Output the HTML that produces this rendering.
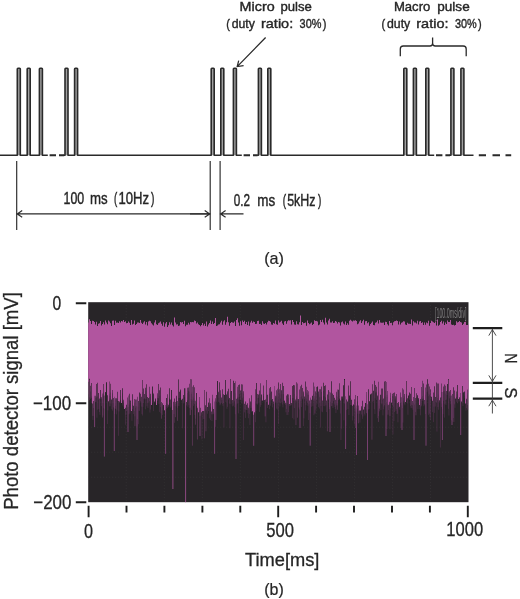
<!DOCTYPE html>
<html><head><meta charset="utf-8"><title>Figure</title>
<style>
html,body{margin:0;padding:0;background:#fff;}
svg{display:block}
text{font-family:"Liberation Sans",sans-serif;fill:#262626;stroke:#262626;stroke-width:0.4px}
.lbl{font-size:13.4px}
.dim{font-size:15.9px}
.cap{font-size:16px;stroke-width:0.2px}
.ax{font-size:20.2px;stroke-width:0.3px}
</style></head><body>
<svg width="520" height="599" viewBox="0 0 520 599">
<rect width="520" height="599" fill="#fff"/>
<g fill="none" stroke="#2a2a2a" stroke-width="1.6" stroke-linejoin="round">
<path d="M0,155.3 L17.30,155.3 L17.30,69.10000000000001 Q17.30,68.2 18.00,68.2 L19.60,68.2 Q20.30,68.2 20.30,69.10000000000001 L20.30,155.3 L27.20,155.3 L27.20,69.10000000000001 Q27.20,68.2 27.90,68.2 L29.50,68.2 Q30.20,68.2 30.20,69.10000000000001 L30.20,155.3 L39.40,155.3 L39.40,69.10000000000001 Q39.40,68.2 40.10,68.2 L41.70,68.2 Q42.40,68.2 42.40,69.10000000000001 L42.40,155.3 L47.80,155.3 M63.70,155.3 L65.00,155.3 L65.00,69.10000000000001 Q65.00,68.2 65.70,68.2 L67.30,68.2 Q68.00,68.2 68.00,69.10000000000001 L68.00,155.3 L74.60,155.3 L74.60,69.10000000000001 Q74.60,68.2 75.30,68.2 L76.90,68.2 Q77.60,68.2 77.60,69.10000000000001 L77.60,155.3 L210.4,155.3 M210.4,155.3 L211.20,155.3 L211.20,69.10000000000001 Q211.20,68.2 211.90,68.2 L213.50,68.2 Q214.20,68.2 214.20,69.10000000000001 L214.20,155.3 L220.80,155.3 L220.80,69.10000000000001 Q220.80,68.2 221.50,68.2 L223.10,68.2 Q223.80,68.2 223.80,69.10000000000001 L223.80,155.3 L233.40,155.3 L233.40,69.10000000000001 Q233.40,68.2 234.10,68.2 L235.70,68.2 Q236.40,68.2 236.40,69.10000000000001 L236.40,155.3 L241.80,155.3 M257.10,155.3 L258.40,155.3 L258.40,69.10000000000001 Q258.40,68.2 259.10,68.2 L260.70,68.2 Q261.40,68.2 261.40,69.10000000000001 L261.40,155.3 L267.80,155.3 L267.80,69.10000000000001 Q267.80,68.2 268.50,68.2 L270.10,68.2 Q270.80,68.2 270.80,69.10000000000001 L270.80,155.3 L403.0,155.3 M403.0,155.3 L403.80,155.3 L403.80,69.10000000000001 Q403.80,68.2 404.50,68.2 L406.10,68.2 Q406.80,68.2 406.80,69.10000000000001 L406.80,155.3 L413.40,155.3 L413.40,69.10000000000001 Q413.40,68.2 414.10,68.2 L415.70,68.2 Q416.40,68.2 416.40,69.10000000000001 L416.40,155.3 L425.80,155.3 L425.80,69.10000000000001 Q425.80,68.2 426.50,68.2 L428.10,68.2 Q428.80,68.2 428.80,69.10000000000001 L428.80,155.3 L434.20,155.3 M449.60,155.3 L450.90,155.3 L450.90,69.10000000000001 Q450.90,68.2 451.60,68.2 L453.20,68.2 Q453.90,68.2 453.90,69.10000000000001 L453.90,155.3 L460.90,155.3 L460.90,69.10000000000001 Q460.90,68.2 461.60,68.2 L463.20,68.2 Q463.90,68.2 463.90,69.10000000000001 L463.90,155.3 L473.5,155.3 " fill="#a0a0a0"/>
<path d="M49.60,155.3 L56.00,155.3 M59.00,155.3 L64.20,155.3 M243.60,155.3 L250.00,155.3 M253.00,155.3 L257.60,155.3 M436.00,155.3 L442.40,155.3 M445.40,155.3 L450.10,155.3 M478.8,155.3 L486,155.3 M492.5,155.3 L500,155.3 M505.5,155.3 L511.2,155.3 " stroke-width="1.9"/>
</g>
<g fill="none" stroke="#2a2a2a" stroke-width="1.15">
<path d="M16.7,161 V230 M210.2,161 V230 M220.1,161 V230"/>
<path d="M16.7,213.9 H210.2 M22.2,210.6 L17.2,213.9 L22.2,217.2 M204.7,210.6 L209.7,213.9 L204.7,217.2"/>
<path d="M220.1,213.9 H243.5 M225.6,210.6 L220.6,213.9 L225.6,217.2"/>
<path d="M190,213.9 H210.2"/>
<path d="M265.6,37.5 L237.2,66.6 M238.7,60.6 L237.2,66.6 L243.6,65.6" stroke-width="1.25"/>
<path d="M400.3,56.3 V49 Q400.3,46 403.3,46 H430 Q432.6,46 432.6,43.2 V37.5 M432.6,43.2 Q432.6,46 435.2,46 H463.2 Q466.2,46 466.2,49 V56.3" stroke-width="1.3"/>
</g>
<text class="lbl" y="11.1" ><tspan x="239.60" textLength="35.04" lengthAdjust="spacingAndGlyphs">Micro</tspan><tspan> </tspan><tspan x="280.40" textLength="31.38" lengthAdjust="spacingAndGlyphs">pulse</tspan></text>
<text class="lbl" y="27.9" ><tspan x="226.20" textLength="3.66" lengthAdjust="spacingAndGlyphs">(</tspan><tspan x="231.70" textLength="23.22" lengthAdjust="spacingAndGlyphs">duty</tspan><tspan> </tspan><tspan x="261.00" textLength="32.19" lengthAdjust="spacingAndGlyphs">ratio:</tspan><tspan> </tspan><tspan x="299.60" textLength="21.82" lengthAdjust="spacingAndGlyphs">30%</tspan><tspan x="322.70" textLength="3.66" lengthAdjust="spacingAndGlyphs">)</tspan></text>
<text class="lbl" y="11.0" ><tspan x="393.90" textLength="36.43" lengthAdjust="spacingAndGlyphs">Macro</tspan><tspan> </tspan><tspan x="437.30" textLength="32.38" lengthAdjust="spacingAndGlyphs">pulse</tspan></text>
<text class="lbl" y="27.9" ><tspan x="381.50" textLength="3.66" lengthAdjust="spacingAndGlyphs">(</tspan><tspan x="387.00" textLength="23.22" lengthAdjust="spacingAndGlyphs">duty</tspan><tspan> </tspan><tspan x="416.30" textLength="32.19" lengthAdjust="spacingAndGlyphs">ratio:</tspan><tspan> </tspan><tspan x="454.90" textLength="21.82" lengthAdjust="spacingAndGlyphs">30%</tspan><tspan x="478.00" textLength="3.66" lengthAdjust="spacingAndGlyphs">)</tspan></text>
<text class="dim" y="203.8" ><tspan x="63.50" textLength="20.69" lengthAdjust="spacingAndGlyphs">100</tspan><tspan> </tspan><tspan x="89.90" textLength="17.63" lengthAdjust="spacingAndGlyphs">ms</tspan><tspan> </tspan><tspan x="114.00" textLength="3.22" lengthAdjust="spacingAndGlyphs">(</tspan><tspan x="118.50" textLength="30.55" lengthAdjust="spacingAndGlyphs">10Hz</tspan><tspan x="151.00" textLength="3.42" lengthAdjust="spacingAndGlyphs">)</tspan></text>
<text class="dim" y="205.8" ><tspan x="233.80" textLength="16.26" lengthAdjust="spacingAndGlyphs">0.2</tspan><tspan> </tspan><tspan x="257.20" textLength="17.93" lengthAdjust="spacingAndGlyphs">ms</tspan><tspan> </tspan><tspan x="282.80" textLength="3.32" lengthAdjust="spacingAndGlyphs">(</tspan><tspan x="287.20" textLength="28.33" lengthAdjust="spacingAndGlyphs">5kHz</tspan><tspan x="318.00" textLength="3.32" lengthAdjust="spacingAndGlyphs">)</tspan></text>
<text class="cap" x="264.2" y="264.0" textLength="19.8" lengthAdjust="spacingAndGlyphs" style="font-size:17px">(a)</text>
<text class="cap" x="264.3" y="594.8" textLength="19.5" lengthAdjust="spacingAndGlyphs" style="font-size:16.3px">(b)</text>

<rect x="88.2" y="302.2" width="380.3" height="200.0" fill="#282528"/>
<path d="M126.2,302.2 V502.2 M164.3,302.2 V502.2 M202.3,302.2 V502.2 M240.3,302.2 V502.2 M278.4,302.2 V502.2 M316.4,302.2 V502.2 M354.4,302.2 V502.2 M392.4,302.2 V502.2 M430.5,302.2 V502.2 " stroke="#4a464a" stroke-width="0.6" stroke-dasharray="1,2" opacity="0.6" fill="none"/>
<path d="M88.2,327.2 H468.5 M88.2,352.2 H468.5 M88.2,377.2 H468.5 M88.2,402.2 H468.5 M88.2,427.2 H468.5 M88.2,452.2 H468.5 M88.2,477.2 H468.5 " stroke="#4a464a" stroke-width="0.6" stroke-dasharray="1,2" opacity="0.6" fill="none"/>
<path d="M88.95,380 V401.3 M89.45,380 V400.0 M90.45,380 V398.9 M91.95,380 V403.1 M92.95,380 V419.9 M93.45,380 V408.0 M93.95,380 V400.6 M94.45,380 V399.7 M95.45,380 V401.9 M95.95,380 V401.9 M96.95,380 V417.7 M97.45,380 V409.6 M98.45,380 V399.7 M98.95,380 V409.0 M99.45,380 V412.0 M99.95,380 V414.8 M100.95,380 V399.0 M101.45,380 V406.2 M101.95,380 V399.3 M102.45,380 V403.2 M102.95,380 V415.6 M103.95,380 V407.9 M104.45,380 V409.2 M107.45,380 V424.0 M107.95,380 V410.4 M108.45,380 V401.3 M109.45,380 V399.9 M109.95,380 V398.3 M110.95,380 V403.6 M111.95,380 V409.2 M112.45,380 V410.6 M112.95,380 V398.7 M113.45,380 V407.4 M113.95,380 V403.3 M114.45,380 V413.9 M114.95,380 V400.5 M115.45,380 V405.8 M115.95,380 V408.9 M116.45,380 V414.4 M116.95,380 V410.4 M117.45,380 V400.9 M117.95,380 V399.0 M118.45,380 V435.8 M118.95,380 V411.5 M119.45,380 V402.6 M119.95,380 V402.6 M120.45,380 V399.9 M121.95,380 V400.8 M122.95,380 V405.5 M123.45,380 V402.7 M123.95,380 V407.3 M124.45,380 V403.2 M125.45,380 V424.8 M125.95,380 V415.1 M126.45,380 V410.9 M127.45,380 V407.4 M127.95,380 V410.4 M128.45,380 V407.0 M128.95,380 V414.3 M129.95,380 V413.6 M130.95,380 V410.2 M131.45,380 V409.5 M131.95,380 V420.8 M132.45,380 V409.0 M133.45,380 V414.1 M134.45,380 V411.1 M134.95,380 V416.4 M135.45,380 V407.7 M135.95,380 V406.1 M136.45,380 V406.3 M136.95,380 V426.5 M137.45,380 V419.2 M137.95,380 V406.8 M138.45,380 V424.2 M138.95,380 V410.8 M139.45,380 V410.8 M140.95,380 V402.5 M141.45,380 V406.6 M141.95,380 V413.9 M142.45,380 V415.5 M142.95,380 V406.8 M143.45,380 V403.0 M143.95,380 V399.2 M144.45,380 V398.0 M144.95,380 V399.4 M145.45,380 V409.3 M145.95,380 V399.0 M146.95,380 V406.4 M147.45,380 V402.9 M147.95,380 V407.9 M148.45,380 V398.4 M148.95,380 V402.4 M149.45,380 V401.0 M149.95,380 V412.6 M150.45,380 V409.6 M151.95,380 V403.1 M153.45,380 V411.1 M154.95,380 V402.3 M155.95,380 V400.1 M156.45,380 V402.1 M156.95,380 V401.3 M157.45,380 V400.8 M157.95,380 V398.2 M158.45,380 V398.3 M158.95,380 V404.1 M159.45,380 V411.9 M160.45,380 V407.1 M160.95,380 V413.3 M161.95,380 V410.4 M162.45,380 V414.9 M162.95,380 V406.5 M164.45,380 V404.8 M165.45,380 V413.4 M165.95,380 V409.1 M166.95,380 V406.7 M167.45,380 V407.9 M167.95,380 V406.4 M168.45,380 V406.7 M170.45,380 V407.6 M170.95,380 V406.6 M173.95,380 V414.0 M174.45,380 V422.8 M174.95,380 V405.7 M175.45,380 V404.0 M175.95,380 V406.4 M176.45,380 V401.3 M177.45,380 V407.8 M177.95,380 V405.8 M178.95,380 V406.1 M179.45,380 V398.0 M180.95,380 V398.1 M181.45,380 V400.6 M181.95,380 V399.1 M182.45,380 V428.3 M182.95,380 V398.1 M183.45,380 V403.4 M183.95,380 V401.4 M186.45,380 V405.4 M186.95,380 V400.5 M187.45,380 V400.4 M187.95,380 V406.7 M188.95,380 V405.0 M189.45,380 V408.1 M189.95,380 V415.4 M190.45,380 V407.6 M190.95,380 V399.0 M191.45,380 V409.8 M191.95,380 V400.7 M192.45,380 V399.7 M193.45,380 V405.8 M193.95,380 V400.9 M194.45,380 V404.1 M194.95,380 V414.9 M195.45,380 V418.7 M196.95,380 V406.0 M197.45,380 V408.8 M197.95,380 V407.8 M198.45,380 V406.8 M199.45,380 V410.0 M199.95,380 V416.0 M200.45,380 V407.8 M200.95,380 V415.5 M201.95,380 V439.3 M202.95,380 V419.0 M203.45,380 V407.2 M203.95,380 V418.9 M204.45,380 V411.4 M205.95,380 V409.4 M206.45,380 V410.5 M207.45,380 V413.7 M208.45,380 V411.0 M209.45,380 V418.4 M209.95,380 V406.5 M210.45,380 V420.1 M210.95,380 V407.4 M211.45,380 V414.3 M211.95,380 V420.9 M212.45,380 V406.4 M212.95,380 V407.8 M213.95,380 V413.6 M214.45,380 V412.4 M214.95,380 V419.9 M215.45,380 V426.8 M215.95,380 V401.6 M216.95,380 V401.8 M218.45,380 V401.8 M219.45,380 V402.6 M219.95,380 V405.4 M220.45,380 V404.4 M221.45,380 V402.8 M221.95,380 V400.1 M222.45,380 V403.9 M222.95,380 V405.8 M223.45,380 V403.0 M223.95,380 V427.4 M225.95,380 V401.9 M226.95,380 V408.8 M227.45,380 V406.8 M228.45,380 V399.5 M229.45,380 V403.8 M229.95,380 V428.3 M230.45,380 V399.4 M230.95,380 V404.2 M231.95,380 V400.5 M232.45,380 V406.4 M232.95,380 V402.6 M233.45,380 V405.7 M234.45,380 V401.3 M234.95,380 V407.2 M235.45,380 V414.3 M235.95,380 V404.4 M236.95,380 V398.4 M237.45,380 V403.5 M237.95,380 V398.4 M238.45,380 V413.4 M238.95,380 V400.2 M240.45,380 V400.2 M240.95,380 V400.1 M241.95,380 V403.7 M242.45,380 V398.3 M242.95,380 V400.4 M243.45,380 V440.0 M244.45,380 V412.4 M244.95,380 V408.9 M245.45,380 V417.9 M245.95,380 V410.1 M246.95,380 V410.0 M247.45,380 V407.3 M247.95,380 V413.3 M248.45,380 V418.2 M248.95,380 V408.8 M249.45,380 V413.9 M249.95,380 V425.0 M250.95,380 V408.1 M251.45,380 V411.7 M251.95,380 V407.6 M252.45,380 V410.9 M252.95,380 V410.2 M254.45,380 V406.9 M254.95,380 V413.5 M255.45,380 V422.2 M255.95,380 V411.0 M256.95,380 V404.0 M257.45,380 V404.6 M257.95,380 V403.2 M259.45,380 V411.9 M259.95,380 V401.8 M260.45,380 V406.8 M260.95,380 V405.1 M261.95,380 V400.8 M262.95,380 V399.8 M263.95,380 V401.5 M264.45,380 V398.2 M264.95,380 V416.6 M265.45,380 V416.3 M265.95,380 V422.3 M266.45,380 V401.9 M266.95,380 V402.1 M267.45,380 V408.0 M268.95,380 V401.6 M269.45,380 V409.2 M270.45,380 V405.7 M270.95,380 V400.5 M271.45,380 V400.2 M272.45,380 V407.4 M272.95,380 V400.9 M273.45,380 V403.9 M274.45,380 V410.3 M274.95,380 V398.2 M275.45,380 V402.5 M276.45,380 V408.6 M276.95,380 V402.7 M277.45,380 V409.5 M277.95,380 V400.7 M278.45,380 V424.1 M279.45,380 V402.6 M279.95,380 V406.5 M280.45,380 V398.5 M280.95,380 V403.2 M281.95,380 V402.0 M282.45,380 V404.5 M282.95,380 V407.4 M283.95,380 V401.0 M284.45,380 V401.2 M284.95,380 V403.9 M285.45,380 V404.9 M285.95,380 V412.3 M286.45,380 V408.9 M286.95,380 V415.0 M287.95,380 V414.9 M288.45,380 V412.1 M288.95,380 V404.3 M289.45,380 V406.1 M290.45,380 V405.5 M290.95,380 V405.4 M291.45,380 V404.6 M292.45,380 V418.1 M293.95,380 V419.5 M294.45,380 V408.1 M295.45,380 V400.7 M295.95,380 V401.6 M296.95,380 V401.3 M297.45,380 V398.9 M297.95,380 V399.1 M298.45,380 V400.5 M298.95,380 V407.5 M299.45,380 V409.5 M300.95,380 V401.0 M301.45,380 V406.9 M302.45,380 V399.4 M303.45,380 V426.1 M303.95,380 V418.4 M304.45,380 V399.2 M305.45,380 V410.5 M305.95,380 V405.2 M306.45,380 V401.2 M306.95,380 V399.4 M307.45,380 V402.6 M307.95,380 V405.8 M308.45,380 V420.0 M308.95,380 V404.3 M309.45,380 V400.4 M309.95,380 V413.2 M310.45,380 V399.3 M310.95,380 V403.4 M311.45,380 V406.7 M311.95,380 V398.7 M312.95,380 V406.2 M313.45,380 V400.7 M313.95,380 V415.2 M314.45,380 V398.5 M314.95,380 V400.7 M315.95,380 V409.7 M316.45,380 V400.0 M316.95,380 V404.0 M318.45,380 V407.1 M319.45,380 V408.5 M319.95,380 V402.5 M320.45,380 V427.6 M320.95,380 V406.1 M321.95,380 V411.6 M322.45,380 V412.2 M323.95,380 V406.1 M324.95,380 V406.4 M325.95,380 V405.3 M326.45,380 V412.0 M328.45,380 V399.2 M328.95,380 V400.2 M329.45,380 V407.1 M330.45,380 V401.7 M331.45,380 V406.2 M331.95,380 V406.1 M332.45,380 V403.1 M332.95,380 V408.1 M333.45,380 V401.0 M334.45,380 V404.5 M334.95,380 V407.0 M335.45,380 V409.2 M335.95,380 V413.0 M336.45,380 V405.5 M336.95,380 V403.3 M337.45,380 V405.4 M338.45,380 V400.1 M339.45,380 V398.6 M339.95,380 V399.5 M340.45,380 V413.5 M340.95,380 V440.1 M341.45,380 V428.7 M341.95,380 V398.7 M342.95,380 V398.6 M343.95,380 V420.3 M344.45,380 V403.5 M345.45,380 V401.6 M345.95,380 V425.8 M346.45,380 V409.9 M346.95,380 V399.1 M347.95,380 V409.1 M348.45,380 V399.5 M348.95,380 V415.1 M350.45,380 V405.0 M351.45,380 V405.0 M352.45,380 V420.5 M352.95,380 V415.9 M354.45,380 V424.5 M354.95,380 V409.3 M355.45,380 V407.4 M355.95,380 V411.6 M356.45,380 V408.1 M356.95,380 V408.8 M357.95,380 V413.8 M358.45,380 V411.0 M358.95,380 V407.9 M359.45,380 V413.8 M359.95,380 V422.6 M360.95,380 V409.4 M361.45,380 V414.5 M361.95,380 V407.8 M362.45,380 V418.8 M362.95,380 V416.5 M363.45,380 V409.6 M364.45,380 V413.8 M364.95,380 V415.5 M366.45,380 V409.6 M366.95,380 V404.4 M368.95,380 V409.1 M372.45,380 V401.6 M373.45,380 V401.2 M374.45,380 V409.3 M374.95,380 V413.9 M376.45,380 V399.9 M377.45,380 V418.2 M378.45,380 V416.1 M378.95,380 V405.7 M379.45,380 V411.4 M379.95,380 V398.7 M380.95,380 V410.1 M381.45,380 V403.4 M381.95,380 V404.4 M382.45,380 V399.7 M382.95,380 V415.4 M383.45,380 V409.4 M383.95,380 V406.6 M384.45,380 V405.2 M386.45,380 V402.2 M386.95,380 V429.1 M387.45,380 V404.3 M387.95,380 V405.7 M388.45,380 V410.1 M388.95,380 V404.7 M389.45,380 V403.5 M389.95,380 V429.2 M390.45,380 V408.3 M391.45,380 V402.9 M392.45,380 V405.2 M392.95,380 V434.4 M393.45,380 V406.8 M393.95,380 V421.1 M394.45,380 V412.0 M395.95,380 V410.9 M396.45,380 V409.2 M396.95,380 V414.0 M397.45,380 V413.7 M397.95,380 V422.3 M398.45,380 V404.1 M398.95,380 V408.2 M399.95,380 V409.7 M400.45,380 V402.7 M400.95,380 V427.9 M401.45,380 V402.2 M401.95,380 V405.4 M402.45,380 V408.1 M402.95,380 V422.6 M403.45,380 V400.7 M403.95,380 V402.1 M404.45,380 V403.6 M404.95,380 V405.3 M405.95,380 V400.4 M406.45,380 V399.6 M407.45,380 V403.4 M407.95,380 V414.8 M409.45,380 V399.7 M410.45,380 V405.9 M410.95,380 V407.8 M411.45,380 V404.8 M411.95,380 V408.1 M412.45,380 V405.3 M412.95,380 V409.7 M413.45,380 V402.6 M414.45,380 V404.6 M415.45,380 V411.9 M417.95,380 V409.2 M419.95,380 V409.2 M420.45,380 V415.3 M420.95,380 V406.6 M421.45,380 V405.6 M421.95,380 V401.2 M422.45,380 V399.0 M422.95,380 V400.8 M423.45,380 V398.5 M423.95,380 V406.2 M424.45,380 V404.2 M424.95,380 V404.8 M425.45,380 V414.0 M426.95,380 V400.4 M428.45,380 V414.8 M429.45,380 V413.6 M429.95,380 V416.9 M430.45,380 V420.2 M431.95,380 V399.3 M432.45,380 V412.1 M432.95,380 V399.0 M433.45,380 V422.1 M433.95,380 V406.7 M434.45,380 V412.9 M435.45,380 V406.5 M435.95,380 V401.8 M436.45,380 V402.4 M436.95,380 V431.6 M437.45,380 V400.3 M437.95,380 V407.1 M438.45,380 V409.7 M438.95,380 V402.2 M439.95,380 V401.4 M440.45,380 V447.5 M441.45,380 V406.9 M441.95,380 V403.6 M442.45,380 V409.2 M442.95,380 V413.9 M443.45,380 V400.7 M444.45,380 V417.6 M444.95,380 V403.9 M445.45,380 V400.0 M445.95,380 V405.0 M446.45,380 V399.7 M448.45,380 V408.8 M448.95,380 V415.5 M449.45,380 V398.4 M450.45,380 V401.1 M450.95,380 V404.2 M451.45,380 V420.4 M451.95,380 V399.7 M452.95,380 V421.7 M453.45,380 V418.0 M453.95,380 V422.1 M454.45,380 V404.4 M454.95,380 V407.8 M455.95,380 V398.7 M456.45,380 V401.7 M457.45,380 V403.3 M458.95,380 V401.7 M459.45,380 V398.3 M459.95,380 V400.9 M460.95,380 V398.3 M461.45,380 V399.3 M462.45,380 V403.3 M462.95,380 V406.0 M464.95,380 V398.2 M465.95,380 V410.6 M466.45,380 V408.1 M466.95,380 V400.2 M467.45,380 V405.0 M467.95,380 V403.6 " stroke="#96488a" stroke-width="0.5" fill="none" opacity="0.5"/>
<path d="M92.95,380 V415.9 M102.45,380 V417.5 M109.95,380 V406.3 M114.95,380 V408.5 M134.95,380 V426.2 M161.45,380 V418.7 M175.45,380 V417.2 M177.45,380 V420.8 M190.45,380 V415.0 M192.45,380 V445.7 M195.45,380 V424.7 M197.45,380 V439.5 M204.45,380 V438.3 M205.95,380 V431.3 M212.95,380 V414.3 M215.95,380 V420.0 M295.95,380 V425.1 M297.45,380 V417.7 M314.95,380 V413.6 M327.45,380 V431.3 M329.45,380 V409.2 M337.45,380 V409.7 M355.45,380 V428.0 M358.45,380 V423.3 M366.45,380 V413.2 M367.95,380 V409.7 M371.95,380 V439.7 M378.45,380 V421.9 M379.45,380 V408.6 M387.95,380 V414.7 M389.95,380 V415.9 M415.95,380 V415.3 M467.95,380 V409.7 " stroke="#9a4a8c" stroke-width="0.6" fill="none" opacity="0.65"/>
<path d="M104.4,380 V456.6 M114.3,380 V451 M214.6,380 V453.8 M236,380 V459 M165.6,380 V453.8 M94.6,380 V427 M253.7,380 V445.8 M274.4,380 V437.7 M310.2,380 V445.7 M367.5,380 V460 M356.5,380 V455 M345.6,380 V449 M426,380 V445.7 M442.4,380 V440 M460.7,380 V435 M137,380 V440 M128,380 V432 M200,380 V436 M300,380 V428 M330,380 V432 M386,380 V436 M402,380 V430 M414,380 V440 M452,380 V425 " stroke="#a8509a" stroke-width="0.7" fill="none" opacity="0.9"/>
<path d="M185.6,380 V502.3 M172.9,380 V489 " stroke="#b0559f" stroke-width="0.8" fill="none" opacity="0.95"/>
<path d="M88.45,378 V394.4 M89.45,378 V397.4 M90.45,378 V391.5 M90.95,378 V397.7 M91.45,378 V397.8 M91.95,378 V395.9 M92.95,378 V391.4 M93.45,378 V390.3 M94.45,378 V391.2 M95.45,378 V397.5 M95.95,378 V397.8 M96.45,378 V396.8 M97.45,378 V396.5 M99.45,378 V397.7 M99.95,378 V397.6 M100.95,378 V397.1 M101.45,378 V393.7 M102.45,378 V395.4 M102.95,378 V393.7 M103.45,378 V392.4 M103.95,378 V395.8 M104.95,378 V391.3 M105.95,378 V393.3 M107.45,378 V393.7 M108.45,378 V394.7 M108.95,378 V395.3 M109.45,378 V393.8 M109.95,378 V396.1 M110.45,378 V392.6 M111.45,378 V395.2 M112.45,378 V393.4 M112.95,378 V392.5 M113.45,378 V397.6 M114.45,378 V393.3 M114.95,378 V394.2 M115.45,378 V397.5 M116.95,378 V398.4 M118.45,378 V394.8 M119.45,378 V390.5 M120.95,378 V395.8 M121.45,378 V392.1 M122.95,378 V393.3 M123.45,378 V401.2 M124.45,378 V400.5 M126.95,378 V401.2 M128.45,378 V399.4 M128.95,378 V404.6 M129.45,378 V400.4 M130.45,378 V400.8 M132.95,378 V405.1 M133.45,378 V404.0 M134.45,378 V402.6 M135.45,378 V399.7 M136.45,378 V398.2 M137.95,378 V398.1 M140.45,378 V401.2 M140.95,378 V397.6 M141.95,378 V394.6 M142.45,378 V392.1 M145.95,378 V390.8 M146.45,378 V395.2 M147.45,378 V394.4 M148.45,378 V397.7 M149.45,378 V396.9 M149.95,378 V397.2 M150.95,378 V395.5 M151.45,378 V394.4 M151.95,378 V391.5 M153.45,378 V394.5 M153.95,378 V390.8 M154.45,378 V395.7 M155.45,378 V392.1 M155.95,378 V394.7 M156.45,378 V397.9 M156.95,378 V395.8 M157.45,378 V397.8 M157.95,378 V394.5 M159.95,378 V395.9 M161.45,378 V395.4 M163.45,378 V398.8 M164.45,378 V403.7 M164.95,378 V400.9 M165.45,378 V401.2 M167.45,378 V404.3 M168.95,378 V396.8 M169.45,378 V398.5 M169.95,378 V400.3 M170.45,378 V396.7 M171.95,378 V398.6 M172.45,378 V404.0 M175.45,378 V401.3 M176.95,378 V397.4 M178.45,378 V397.9 M180.45,378 V390.8 M180.95,378 V390.1 M181.45,378 V395.6 M181.95,378 V391.6 M183.45,378 V393.7 M184.95,378 V397.0 M186.95,378 V397.4 M187.45,378 V393.1 M188.45,378 V391.4 M188.95,378 V390.4 M189.45,378 V391.7 M189.95,378 V394.4 M191.45,378 V393.8 M191.95,378 V391.8 M192.95,378 V396.7 M193.95,378 V398.6 M194.95,378 V400.6 M195.45,378 V396.6 M195.95,378 V402.1 M197.45,378 V405.3 M198.45,378 V402.5 M199.45,378 V401.6 M200.45,378 V401.6 M200.95,378 V405.0 M202.45,378 V405.0 M202.95,378 V405.1 M203.95,378 V403.6 M205.95,378 V398.1 M207.95,378 V401.4 M208.45,378 V399.5 M208.95,378 V402.5 M209.45,378 V404.8 M209.95,378 V402.6 M211.45,378 V404.4 M212.45,378 V398.6 M213.45,378 V401.4 M215.45,378 V397.0 M215.95,378 V399.9 M218.45,378 V392.9 M218.95,378 V397.8 M220.45,378 V394.5 M220.95,378 V393.4 M221.95,378 V396.5 M223.45,378 V392.1 M224.45,378 V394.5 M224.95,378 V390.4 M225.95,378 V393.3 M227.45,378 V392.6 M228.45,378 V396.7 M229.45,378 V391.1 M229.95,378 V392.9 M230.45,378 V391.0 M231.45,378 V390.4 M232.45,378 V396.7 M235.45,378 V393.4 M236.95,378 V397.8 M237.45,378 V396.7 M237.95,378 V390.3 M238.95,378 V397.1 M239.45,378 V394.1 M241.45,378 V390.0 M241.95,378 V392.8 M242.95,378 V396.8 M243.45,378 V393.7 M244.45,378 V396.2 M245.45,378 V398.2 M246.45,378 V401.8 M246.95,378 V402.1 M247.45,378 V402.8 M248.45,378 V402.1 M248.95,378 V400.1 M249.45,378 V405.0 M249.95,378 V405.9 M250.45,378 V399.9 M251.95,378 V401.8 M254.45,378 V401.1 M254.95,378 V403.6 M255.45,378 V401.3 M256.95,378 V392.7 M257.45,378 V398.0 M257.95,378 V390.8 M258.45,378 V397.8 M258.95,378 V390.5 M259.45,378 V394.0 M260.45,378 V397.5 M260.95,378 V390.5 M262.45,378 V390.4 M263.45,378 V394.2 M263.95,378 V396.0 M265.95,378 V392.1 M266.45,378 V395.1 M268.45,378 V393.3 M269.45,378 V394.1 M269.95,378 V392.7 M271.95,378 V392.2 M272.45,378 V397.6 M272.95,378 V397.1 M273.45,378 V397.2 M273.95,378 V394.1 M274.95,378 V391.4 M275.45,378 V397.4 M276.45,378 V396.6 M276.95,378 V395.6 M277.45,378 V391.7 M277.95,378 V397.5 M279.45,378 V392.8 M279.95,378 V394.6 M281.95,378 V394.3 M283.45,378 V394.3 M284.95,378 V398.2 M285.45,378 V402.1 M285.95,378 V396.4 M286.95,378 V403.4 M288.45,378 V398.1 M289.95,378 V398.0 M291.95,378 V398.1 M292.95,378 V398.1 M293.95,378 V401.1 M294.95,378 V394.1 M295.45,378 V392.9 M296.45,378 V396.3 M296.95,378 V398.4 M298.45,378 V395.6 M300.95,378 V397.1 M301.95,378 V395.9 M302.45,378 V398.4 M303.45,378 V393.3 M305.95,378 V397.8 M306.45,378 V392.4 M306.95,378 V393.7 M307.45,378 V392.9 M307.95,378 V395.1 M308.45,378 V394.8 M308.95,378 V394.4 M309.45,378 V392.9 M309.95,378 V396.2 M310.45,378 V395.2 M310.95,378 V397.1 M311.45,378 V393.7 M312.45,378 V396.0 M313.45,378 V393.9 M313.95,378 V390.8 M314.45,378 V396.0 M314.95,378 V396.6 M315.45,378 V392.1 M315.95,378 V392.6 M316.45,378 V392.8 M318.95,378 V394.5 M319.45,378 V396.8 M319.95,378 V397.6 M321.45,378 V392.0 M321.95,378 V396.8 M322.45,378 V394.6 M323.45,378 V390.8 M323.95,378 V396.0 M325.45,378 V397.1 M325.95,378 V397.8 M327.95,378 V391.0 M329.95,378 V396.0 M330.45,378 V393.3 M332.95,378 V391.4 M333.45,378 V392.3 M334.45,378 V394.9 M334.95,378 V395.7 M335.45,378 V397.0 M336.45,378 V392.7 M336.95,378 V395.8 M337.45,378 V397.0 M339.45,378 V398.4 M339.95,378 V395.9 M340.45,378 V396.6 M341.95,378 V391.4 M342.45,378 V390.4 M345.45,378 V394.9 M345.95,378 V397.6 M346.45,378 V394.7 M348.95,378 V391.7 M349.45,378 V395.5 M350.45,378 V398.1 M351.45,378 V394.6 M352.45,378 V401.0 M353.95,378 V402.1 M354.45,378 V405.3 M356.45,378 V403.3 M356.95,378 V401.6 M357.95,378 V401.5 M358.95,378 V405.2 M359.95,378 V403.0 M360.95,378 V404.2 M361.95,378 V398.7 M362.45,378 V399.6 M363.45,378 V403.8 M364.45,378 V403.7 M364.95,378 V401.9 M366.45,378 V401.0 M366.95,378 V394.8 M367.45,378 V399.4 M370.45,378 V394.9 M370.95,378 V391.0 M371.95,378 V391.7 M372.45,378 V393.2 M374.95,378 V398.3 M375.45,378 V391.7 M375.95,378 V393.2 M376.45,378 V391.8 M377.45,378 V396.6 M378.95,378 V391.8 M379.45,378 V392.0 M379.95,378 V391.7 M380.95,378 V394.7 M384.95,378 V396.5 M385.45,378 V390.8 M386.45,378 V394.9 M386.95,378 V397.1 M387.45,378 V395.2 M387.95,378 V393.8 M389.45,378 V392.8 M389.95,378 V395.8 M390.45,378 V398.2 M390.95,378 V394.4 M392.45,378 V395.8 M393.95,378 V396.5 M394.95,378 V399.4 M395.45,378 V398.4 M395.95,378 V400.5 M396.95,378 V397.3 M397.95,378 V397.6 M399.95,378 V397.9 M400.45,378 V396.7 M400.95,378 V394.6 M403.45,378 V398.2 M403.95,378 V396.1 M404.95,378 V396.8 M405.45,378 V395.2 M405.95,378 V394.1 M406.45,378 V394.2 M407.45,378 V390.9 M407.95,378 V392.9 M411.45,378 V399.5 M412.45,378 V397.4 M412.95,378 V394.6 M413.45,378 V396.6 M415.45,378 V398.0 M415.95,378 V400.5 M416.45,378 V396.9 M416.95,378 V397.7 M418.95,378 V400.1 M419.45,378 V398.2 M421.45,378 V397.3 M421.95,378 V398.5 M422.45,378 V396.1 M422.95,378 V390.6 M425.45,378 V394.8 M426.95,378 V392.2 M427.95,378 V390.6 M428.45,378 V396.3 M428.95,378 V393.8 M429.45,378 V394.8 M430.95,378 V396.0 M431.45,378 V390.5 M431.95,378 V391.7 M432.45,378 V393.6 M432.95,378 V393.1 M433.95,378 V396.3 M435.95,378 V396.3 M437.45,378 V397.9 M438.95,378 V394.6 M440.95,378 V392.0 M441.45,378 V392.1 M441.95,378 V397.0 M442.45,378 V391.3 M442.95,378 V392.4 M443.45,378 V390.9 M444.45,378 V391.3 M445.45,378 V393.6 M445.95,378 V391.4 M446.95,378 V395.1 M447.95,378 V390.5 M448.45,378 V392.7 M449.45,378 V391.8 M449.95,378 V396.3 M450.95,378 V395.7 M451.45,378 V390.1 M454.95,378 V397.1 M455.95,378 V397.3 M456.45,378 V396.9 M456.95,378 V394.4 M458.95,378 V391.5 M459.45,378 V393.9 M460.95,378 V396.6 M461.45,378 V394.2 M462.95,378 V392.9 M464.45,378 V391.3 M464.95,378 V395.8 M466.95,378 V394.7 M467.45,378 V390.2 M467.95,378 V393.0 " stroke="#b0559f" stroke-width="0.5" fill="none" opacity="0.35"/>
<path d="M88.2,350 L88.2,322.5 L89.0,322.5 L89.0,319.2 L90.0,319.2 L90.0,320.9 L91.0,320.9 L91.0,324.1 L92.0,324.1 L92.0,320.7 L93.0,320.7 L93.0,321.0 L94.0,321.0 L94.0,321.9 L95.0,321.9 L95.0,324.6 L96.0,324.6 L96.0,321.8 L97.0,321.8 L97.0,325.9 L98.0,325.9 L98.0,323.8 L99.0,323.8 L99.0,323.3 L100.0,323.3 L100.0,321.1 L101.0,321.1 L101.0,325.5 L102.0,325.5 L102.0,324.1 L103.0,324.1 L103.0,322.3 L104.0,322.3 L104.0,324.4 L105.0,324.4 L105.0,320.6 L106.0,320.6 L106.0,322.4 L107.0,322.4 L107.0,324.3 L108.0,324.3 L108.0,320.6 L109.0,320.6 L109.0,321.5 L110.0,321.5 L110.0,323.2 L111.0,323.2 L111.0,326.0 L112.0,326.0 L112.0,320.7 L113.0,320.7 L113.0,320.5 L114.0,320.5 L114.0,324.9 L115.0,324.9 L115.0,320.7 L116.0,320.7 L116.0,322.8 L117.0,322.8 L117.0,322.6 L118.0,322.6 L118.0,323.0 L119.0,323.0 L119.0,321.2 L120.0,321.2 L120.0,322.4 L121.0,322.4 L121.0,320.9 L122.0,320.9 L122.0,321.5 L123.0,321.5 L123.0,320.1 L124.0,320.1 L124.0,322.1 L125.0,322.1 L125.0,321.2 L126.0,321.2 L126.0,323.3 L127.0,323.3 L127.0,322.9 L128.0,322.9 L128.0,321.5 L129.0,321.5 L129.0,322.8 L130.0,322.8 L130.0,324.9 L131.0,324.9 L131.0,320.1 L132.0,320.1 L132.0,324.5 L133.0,324.5 L133.0,323.7 L134.0,323.7 L134.0,320.6 L135.0,320.6 L135.0,325.0 L136.0,325.0 L136.0,324.1 L137.0,324.1 L137.0,322.6 L138.0,322.6 L138.0,322.5 L139.0,322.5 L139.0,322.9 L140.0,322.9 L140.0,320.1 L141.0,320.1 L141.0,322.7 L142.0,322.7 L142.0,324.1 L143.0,324.1 L143.0,322.6 L144.0,322.6 L144.0,321.2 L145.0,321.2 L145.0,324.6 L146.0,324.6 L146.0,322.1 L147.0,322.1 L147.0,325.6 L148.0,325.6 L148.0,321.5 L149.0,321.5 L149.0,320.8 L150.0,320.8 L150.0,321.2 L151.0,321.2 L151.0,323.2 L152.0,323.2 L152.0,324.6 L153.0,324.6 L153.0,325.4 L154.0,325.4 L154.0,322.4 L155.0,322.4 L155.0,320.3 L156.0,320.3 L156.0,324.3 L157.0,324.3 L157.0,324.9 L158.0,324.9 L158.0,323.3 L159.0,323.3 L159.0,322.6 L160.0,322.6 L160.0,321.4 L161.0,321.4 L161.0,323.8 L162.0,323.8 L162.0,325.7 L163.0,325.7 L163.0,322.2 L164.0,322.2 L164.0,326.7 L165.0,326.7 L165.0,323.5 L166.0,323.5 L166.0,322.0 L167.0,322.0 L167.0,326.9 L168.0,326.9 L168.0,325.2 L169.0,325.2 L169.0,322.3 L170.0,322.3 L170.0,324.6 L171.0,324.6 L171.0,322.4 L172.0,322.4 L172.0,325.2 L173.0,325.2 L173.0,326.5 L174.0,326.5 L174.0,317.5 L175.0,317.5 L175.0,322.4 L176.0,322.4 L176.0,324.4 L177.0,324.4 L177.0,324.3 L178.0,324.3 L178.0,326.1 L179.0,326.1 L179.0,325.5 L180.0,325.5 L180.0,321.9 L181.0,321.9 L181.0,322.6 L182.0,322.6 L182.0,322.0 L183.0,322.0 L183.0,324.1 L184.0,324.1 L184.0,320.7 L185.0,320.7 L185.0,326.3 L186.0,326.3 L186.0,324.8 L187.0,324.8 L187.0,324.8 L188.0,324.8 L188.0,322.8 L189.0,322.8 L189.0,324.4 L190.0,324.4 L190.0,322.0 L191.0,322.0 L191.0,322.2 L192.0,322.2 L192.0,321.9 L193.0,321.9 L193.0,322.2 L194.0,322.2 L194.0,320.4 L195.0,320.4 L195.0,320.9 L196.0,320.9 L196.0,323.5 L197.0,323.5 L197.0,322.4 L198.0,322.4 L198.0,324.2 L199.0,324.2 L199.0,324.9 L200.0,324.9 L200.0,326.3 L201.0,326.3 L201.0,325.1 L202.0,325.1 L202.0,322.9 L203.0,322.9 L203.0,325.6 L204.0,325.6 L204.0,323.7 L205.0,323.7 L205.0,326.0 L206.0,326.0 L206.0,321.6 L207.0,321.6 L207.0,326.5 L208.0,326.5 L208.0,324.4 L209.0,324.4 L209.0,322.9 L210.0,322.9 L210.0,320.6 L211.0,320.6 L211.0,324.1 L212.0,324.1 L212.0,321.6 L213.0,321.6 L213.0,324.1 L214.0,324.1 L214.0,322.9 L215.0,322.9 L215.0,318.1 L216.0,318.1 L216.0,326.0 L217.0,326.0 L217.0,325.4 L218.0,325.4 L218.0,324.6 L219.0,324.6 L219.0,324.3 L220.0,324.3 L220.0,322.5 L221.0,322.5 L221.0,320.8 L222.0,320.8 L222.0,324.8 L223.0,324.8 L223.0,321.6 L224.0,321.6 L224.0,320.2 L225.0,320.2 L225.0,324.7 L226.0,324.7 L226.0,322.3 L227.0,322.3 L227.0,316.7 L228.0,316.7 L228.0,322.3 L229.0,322.3 L229.0,325.7 L230.0,325.7 L230.0,322.9 L231.0,322.9 L231.0,322.1 L232.0,322.1 L232.0,322.4 L233.0,322.4 L233.0,322.7 L234.0,322.7 L234.0,321.5 L235.0,321.5 L235.0,325.9 L236.0,325.9 L236.0,319.9 L237.0,319.9 L237.0,318.2 L238.0,318.2 L238.0,322.4 L239.0,322.4 L239.0,325.8 L240.0,325.8 L240.0,321.3 L241.0,321.3 L241.0,325.2 L242.0,325.2 L242.0,320.6 L243.0,320.6 L243.0,322.0 L244.0,322.0 L244.0,320.8 L245.0,320.8 L245.0,324.0 L246.0,324.0 L246.0,322.0 L247.0,322.0 L247.0,325.1 L248.0,325.1 L248.0,321.6 L249.0,321.6 L249.0,325.7 L250.0,325.7 L250.0,322.4 L251.0,322.4 L251.0,320.8 L252.0,320.8 L252.0,322.7 L253.0,322.7 L253.0,321.6 L254.0,321.6 L254.0,321.9 L255.0,321.9 L255.0,324.1 L256.0,324.1 L256.0,323.7 L257.0,323.7 L257.0,321.1 L258.0,321.1 L258.0,320.7 L259.0,320.7 L259.0,324.0 L260.0,324.0 L260.0,323.8 L261.0,323.8 L261.0,325.0 L262.0,325.0 L262.0,321.2 L263.0,321.2 L263.0,323.6 L264.0,323.6 L264.0,323.9 L265.0,323.9 L265.0,323.1 L266.0,323.1 L266.0,324.6 L267.0,324.6 L267.0,322.3 L268.0,322.3 L268.0,320.8 L269.0,320.8 L269.0,321.1 L270.0,321.1 L270.0,321.7 L271.0,321.7 L271.0,324.6 L272.0,324.6 L272.0,324.8 L273.0,324.8 L273.0,323.1 L274.0,323.1 L274.0,323.7 L275.0,323.7 L275.0,320.6 L276.0,320.6 L276.0,324.2 L277.0,324.2 L277.0,324.7 L278.0,324.7 L278.0,320.4 L279.0,320.4 L279.0,322.5 L280.0,322.5 L280.0,321.8 L281.0,321.8 L281.0,320.8 L282.0,320.8 L282.0,323.6 L283.0,323.6 L283.0,324.9 L284.0,324.9 L284.0,321.4 L285.0,321.4 L285.0,320.9 L286.0,320.9 L286.0,323.8 L287.0,323.8 L287.0,321.3 L288.0,321.3 L288.0,320.2 L289.0,320.2 L289.0,320.4 L290.0,320.4 L290.0,320.3 L291.0,320.3 L291.0,324.4 L292.0,324.4 L292.0,320.1 L293.0,320.1 L293.0,321.9 L294.0,321.9 L294.0,324.5 L295.0,324.5 L295.0,324.7 L296.0,324.7 L296.0,321.2 L297.0,321.2 L297.0,324.2 L298.0,324.2 L298.0,324.4 L299.0,324.4 L299.0,322.3 L300.0,322.3 L300.0,315.5 L301.0,315.5 L301.0,324.9 L302.0,324.9 L302.0,321.9 L303.0,321.9 L303.0,323.2 L304.0,323.2 L304.0,322.9 L305.0,322.9 L305.0,322.6 L306.0,322.6 L306.0,325.8 L307.0,325.8 L307.0,320.6 L308.0,320.6 L308.0,323.1 L309.0,323.1 L309.0,324.2 L310.0,324.2 L310.0,323.6 L311.0,323.6 L311.0,322.5 L312.0,322.5 L312.0,324.9 L313.0,324.9 L313.0,324.0 L314.0,324.0 L314.0,320.3 L315.0,320.3 L315.0,320.9 L316.0,320.9 L316.0,321.1 L317.0,321.1 L317.0,321.6 L318.0,321.6 L318.0,325.3 L319.0,325.3 L319.0,324.6 L320.0,324.6 L320.0,319.9 L321.0,319.9 L321.0,321.9 L322.0,321.9 L322.0,319.7 L323.0,319.7 L323.0,322.6 L324.0,322.6 L324.0,324.5 L325.0,324.5 L325.0,317.7 L326.0,317.7 L326.0,322.6 L327.0,322.6 L327.0,324.6 L328.0,324.6 L328.0,320.6 L329.0,320.6 L329.0,318.8 L330.0,318.8 L330.0,322.4 L331.0,322.4 L331.0,322.6 L332.0,322.6 L332.0,321.2 L333.0,321.2 L333.0,322.9 L334.0,322.9 L334.0,322.7 L335.0,322.7 L335.0,321.1 L336.0,321.1 L336.0,321.7 L337.0,321.7 L337.0,323.6 L338.0,323.6 L338.0,321.9 L339.0,321.9 L339.0,322.6 L340.0,322.6 L340.0,325.4 L341.0,325.4 L341.0,322.3 L342.0,322.3 L342.0,321.4 L343.0,321.4 L343.0,323.6 L344.0,323.6 L344.0,324.4 L345.0,324.4 L345.0,321.4 L346.0,321.4 L346.0,325.0 L347.0,325.0 L347.0,323.3 L348.0,323.3 L348.0,324.8 L349.0,324.8 L349.0,320.7 L350.0,320.7 L350.0,319.7 L351.0,319.7 L351.0,320.7 L352.0,320.7 L352.0,321.5 L353.0,321.5 L353.0,320.5 L354.0,320.5 L354.0,320.7 L355.0,320.7 L355.0,320.3 L356.0,320.3 L356.0,320.9 L357.0,320.9 L357.0,324.2 L358.0,324.2 L358.0,323.4 L359.0,323.4 L359.0,321.4 L360.0,321.4 L360.0,320.3 L361.0,320.3 L361.0,322.9 L362.0,322.9 L362.0,321.2 L363.0,321.2 L363.0,319.8 L364.0,319.8 L364.0,324.8 L365.0,324.8 L365.0,321.2 L366.0,321.2 L366.0,320.9 L367.0,320.9 L367.0,323.3 L368.0,323.3 L368.0,322.2 L369.0,322.2 L369.0,325.8 L370.0,325.8 L370.0,323.9 L371.0,323.9 L371.0,322.7 L372.0,322.7 L372.0,321.6 L373.0,321.6 L373.0,325.1 L374.0,325.1 L374.0,325.2 L375.0,325.2 L375.0,322.8 L376.0,322.8 L376.0,322.2 L377.0,322.2 L377.0,320.4 L378.0,320.4 L378.0,323.6 L379.0,323.6 L379.0,320.0 L380.0,320.0 L380.0,322.4 L381.0,322.4 L381.0,322.8 L382.0,322.8 L382.0,322.8 L383.0,322.8 L383.0,322.5 L384.0,322.5 L384.0,325.0 L385.0,325.0 L385.0,321.7 L386.0,321.7 L386.0,322.1 L387.0,322.1 L387.0,324.2 L388.0,324.2 L388.0,325.5 L389.0,325.5 L389.0,321.0 L390.0,321.0 L390.0,323.0 L391.0,323.0 L391.0,322.8 L392.0,322.8 L392.0,325.2 L393.0,325.2 L393.0,322.2 L394.0,322.2 L394.0,321.2 L395.0,321.2 L395.0,320.9 L396.0,320.9 L396.0,320.6 L397.0,320.6 L397.0,320.9 L398.0,320.9 L398.0,324.6 L399.0,324.6 L399.0,321.4 L400.0,321.4 L400.0,324.5 L401.0,324.5 L401.0,322.8 L402.0,322.8 L402.0,322.3 L403.0,322.3 L403.0,321.3 L404.0,321.3 L404.0,321.5 L405.0,321.5 L405.0,324.4 L406.0,324.4 L406.0,325.0 L407.0,325.0 L407.0,322.8 L408.0,322.8 L408.0,323.7 L409.0,323.7 L409.0,323.8 L410.0,323.8 L410.0,324.1 L411.0,324.1 L411.0,319.5 L412.0,319.5 L412.0,325.6 L413.0,325.6 L413.0,321.2 L414.0,321.2 L414.0,322.6 L415.0,322.6 L415.0,322.4 L416.0,322.4 L416.0,323.4 L417.0,323.4 L417.0,320.7 L418.0,320.7 L418.0,324.6 L419.0,324.6 L419.0,321.4 L420.0,321.4 L420.0,320.9 L421.0,320.9 L421.0,323.1 L422.0,323.1 L422.0,322.3 L423.0,322.3 L423.0,325.1 L424.0,325.1 L424.0,322.5 L425.0,322.5 L425.0,324.7 L426.0,324.7 L426.0,322.6 L427.0,322.6 L427.0,323.3 L428.0,323.3 L428.0,320.7 L429.0,320.7 L429.0,325.7 L430.0,325.7 L430.0,322.9 L431.0,322.9 L431.0,320.8 L432.0,320.8 L432.0,321.6 L433.0,321.6 L433.0,322.3 L434.0,322.3 L434.0,323.1 L435.0,323.1 L435.0,321.5 L436.0,321.5 L436.0,325.4 L437.0,325.4 L437.0,319.6 L438.0,319.6 L438.0,325.8 L439.0,325.8 L439.0,324.8 L440.0,324.8 L440.0,322.1 L441.0,322.1 L441.0,320.8 L442.0,320.8 L442.0,323.6 L443.0,323.6 L443.0,321.6 L444.0,321.6 L444.0,324.9 L445.0,324.9 L445.0,322.5 L446.0,322.5 L446.0,323.9 L447.0,323.9 L447.0,320.5 L448.0,320.5 L448.0,322.1 L449.0,322.1 L449.0,321.9 L450.0,321.9 L450.0,320.1 L451.0,320.1 L451.0,324.4 L452.0,324.4 L452.0,325.1 L453.0,325.1 L453.0,324.8 L454.0,324.8 L454.0,325.4 L455.0,325.4 L455.0,325.1 L456.0,325.1 L456.0,321.2 L457.0,321.2 L457.0,322.6 L458.0,322.6 L458.0,321.9 L459.0,321.9 L459.0,320.9 L460.0,320.9 L460.0,321.9 L461.0,321.9 L461.0,322.5 L462.0,322.5 L462.0,324.9 L463.0,324.9 L463.0,323.7 L464.0,323.7 L464.0,322.1 L465.0,322.1 L465.0,321.8 L466.0,321.8 L466.0,324.9 L467.0,324.9 L467.0,324.9 L468.0,324.9 L468.0,324.1 L468.5,324.1 L468.5,350 L468.5,392.5 L468.0,392.5 L468.0,389.4 L467.0,389.4 L467.0,398.8 L466.0,398.8 L466.0,403.4 L465.0,403.4 L465.0,391.6 L464.0,391.6 L464.0,392.2 L463.0,392.2 L463.0,386.1 L462.0,386.1 L462.0,401.6 L461.0,401.6 L461.0,393.1 L460.0,393.1 L460.0,397.2 L459.0,397.2 L459.0,398.9 L458.0,398.9 L458.0,385.0 L457.0,385.0 L457.0,391.6 L456.0,391.6 L456.0,398.6 L455.0,398.6 L455.0,390.4 L454.0,390.4 L454.0,387.3 L453.0,387.3 L453.0,394.1 L452.0,394.1 L452.0,395.5 L451.0,395.5 L451.0,390.0 L450.0,390.0 L450.0,391.3 L449.0,391.3 L449.0,378.9 L448.0,378.9 L448.0,384.1 L447.0,384.1 L447.0,391.1 L446.0,391.1 L446.0,385.8 L445.0,385.8 L445.0,384.6 L444.0,384.6 L444.0,386.4 L443.0,386.4 L443.0,392.0 L442.0,392.0 L442.0,383.5 L441.0,383.5 L441.0,397.6 L440.0,397.6 L440.0,400.2 L439.0,400.2 L439.0,383.6 L438.0,383.6 L438.0,383.4 L437.0,383.4 L437.0,382.4 L436.0,382.4 L436.0,397.1 L435.0,397.1 L435.0,386.2 L434.0,386.2 L434.0,392.4 L433.0,392.4 L433.0,400.7 L432.0,400.7 L432.0,396.8 L431.0,396.8 L431.0,389.2 L430.0,389.2 L430.0,386.4 L429.0,386.4 L429.0,383.8 L428.0,383.8 L428.0,379.2 L427.0,379.2 L427.0,384.4 L426.0,384.4 L426.0,387.6 L425.0,387.6 L425.0,400.1 L424.0,400.1 L424.0,383.5 L423.0,383.5 L423.0,380.8 L422.0,380.8 L422.0,387.1 L421.0,387.1 L421.0,399.1 L420.0,399.1 L420.0,405.1 L419.0,405.1 L419.0,398.3 L418.0,398.3 L418.0,395.2 L417.0,395.2 L417.0,393.3 L416.0,393.3 L416.0,398.1 L415.0,398.1 L415.0,387.9 L414.0,387.9 L414.0,396.9 L413.0,396.9 L413.0,400.9 L412.0,400.9 L412.0,386.9 L411.0,386.9 L411.0,393.7 L410.0,393.7 L410.0,392.5 L409.0,392.5 L409.0,395.6 L408.0,395.6 L408.0,398.2 L407.0,398.2 L407.0,381.1 L406.0,381.1 L406.0,402.1 L405.0,402.1 L405.0,394.0 L404.0,394.0 L404.0,389.6 L403.0,389.6 L403.0,388.2 L402.0,388.2 L402.0,397.3 L401.0,397.3 L401.0,392.5 L400.0,392.5 L400.0,406.8 L399.0,406.8 L399.0,402.1 L398.0,402.1 L398.0,403.0 L397.0,403.0 L397.0,394.0 L396.0,394.0 L396.0,396.2 L395.0,396.2 L395.0,392.6 L394.0,392.6 L394.0,393.1 L393.0,393.1 L393.0,393.7 L392.0,393.7 L392.0,402.5 L391.0,402.5 L391.0,392.7 L390.0,392.7 L390.0,401.8 L389.0,401.8 L389.0,404.8 L388.0,404.8 L388.0,390.9 L387.0,390.9 L387.0,382.0 L386.0,382.0 L386.0,381.1 L385.0,381.1 L385.0,381.4 L384.0,381.4 L384.0,398.4 L383.0,398.4 L383.0,388.4 L382.0,388.4 L382.0,388.6 L381.0,388.6 L381.0,394.8 L380.0,394.8 L380.0,399.8 L379.0,399.8 L379.0,381.7 L378.0,381.7 L378.0,395.4 L377.0,395.4 L377.0,386.7 L376.0,386.7 L376.0,385.0 L375.0,385.0 L375.0,380.7 L374.0,380.7 L374.0,390.8 L373.0,390.8 L373.0,384.3 L372.0,384.3 L372.0,393.4 L371.0,393.4 L371.0,394.2 L370.0,394.2 L370.0,401.3 L369.0,401.3 L369.0,389.3 L368.0,389.3 L368.0,404.3 L367.0,404.3 L367.0,392.0 L366.0,392.0 L366.0,403.1 L365.0,403.1 L365.0,406.8 L364.0,406.8 L364.0,409.4 L363.0,409.4 L363.0,400.7 L362.0,400.7 L362.0,406.3 L361.0,406.3 L361.0,410.6 L360.0,410.6 L360.0,410.5 L359.0,410.5 L359.0,405.4 L358.0,405.4 L358.0,396.1 L357.0,396.1 L357.0,405.6 L356.0,405.6 L356.0,395.1 L355.0,395.1 L355.0,399.2 L354.0,399.2 L354.0,404.4 L353.0,404.4 L353.0,405.8 L352.0,405.8 L352.0,399.8 L351.0,399.8 L351.0,381.3 L350.0,381.3 L350.0,395.6 L349.0,395.6 L349.0,385.5 L348.0,385.5 L348.0,401.4 L347.0,401.4 L347.0,399.5 L346.0,399.5 L346.0,396.3 L345.0,396.3 L345.0,379.0 L344.0,379.0 L344.0,385.3 L343.0,385.3 L343.0,396.5 L342.0,396.5 L342.0,396.4 L341.0,396.4 L341.0,400.5 L340.0,400.5 L340.0,383.3 L339.0,383.3 L339.0,389.8 L338.0,389.8 L338.0,389.6 L337.0,389.6 L337.0,391.8 L336.0,391.8 L336.0,399.8 L335.0,399.8 L335.0,397.7 L334.0,397.7 L334.0,395.1 L333.0,395.1 L333.0,393.4 L332.0,393.4 L332.0,381.3 L331.0,381.3 L331.0,392.4 L330.0,392.4 L330.0,391.8 L329.0,391.8 L329.0,390.0 L328.0,390.0 L328.0,394.5 L327.0,394.5 L327.0,400.4 L326.0,400.4 L326.0,385.3 L325.0,385.3 L325.0,386.1 L324.0,386.1 L324.0,382.8 L323.0,382.8 L323.0,400.4 L322.0,400.4 L322.0,386.6 L321.0,386.6 L321.0,389.3 L320.0,389.3 L320.0,389.2 L319.0,389.2 L319.0,391.4 L318.0,391.4 L318.0,386.4 L317.0,386.4 L317.0,387.1 L316.0,387.1 L316.0,391.3 L315.0,391.3 L315.0,386.5 L314.0,386.5 L314.0,382.5 L313.0,382.5 L313.0,395.7 L312.0,395.7 L312.0,399.7 L311.0,399.7 L311.0,397.5 L310.0,397.5 L310.0,400.4 L309.0,400.4 L309.0,391.3 L308.0,391.3 L308.0,390.0 L307.0,390.0 L307.0,386.8 L306.0,386.8 L306.0,381.6 L305.0,381.6 L305.0,396.6 L304.0,396.6 L304.0,391.5 L303.0,391.5 L303.0,388.1 L302.0,388.1 L302.0,384.8 L301.0,384.8 L301.0,386.3 L300.0,386.3 L300.0,389.5 L299.0,389.5 L299.0,399.1 L298.0,399.1 L298.0,383.6 L297.0,383.6 L297.0,382.2 L296.0,382.2 L296.0,399.5 L295.0,399.5 L295.0,385.3 L294.0,385.3 L294.0,384.9 L293.0,384.9 L293.0,385.9 L292.0,385.9 L292.0,403.1 L291.0,403.1 L291.0,394.9 L290.0,394.9 L290.0,404.0 L289.0,404.0 L289.0,394.6 L288.0,394.6 L288.0,394.3 L287.0,394.3 L287.0,395.5 L286.0,395.5 L286.0,402.8 L285.0,402.8 L285.0,400.4 L284.0,400.4 L284.0,385.9 L283.0,385.9 L283.0,382.7 L282.0,382.7 L282.0,390.3 L281.0,390.3 L281.0,383.9 L280.0,383.9 L280.0,389.3 L279.0,389.3 L279.0,382.5 L278.0,382.5 L278.0,388.7 L277.0,388.7 L277.0,390.3 L276.0,390.3 L276.0,395.8 L275.0,395.8 L275.0,386.1 L274.0,386.1 L274.0,401.4 L273.0,401.4 L273.0,399.1 L272.0,399.1 L272.0,391.6 L271.0,391.6 L271.0,386.9 L270.0,386.9 L270.0,388.3 L269.0,388.3 L269.0,404.7 L268.0,404.7 L268.0,394.7 L267.0,394.7 L267.0,380.1 L266.0,380.1 L266.0,399.6 L265.0,399.6 L265.0,400.0 L264.0,400.0 L264.0,385.6 L263.0,385.6 L263.0,400.4 L262.0,400.4 L262.0,394.4 L261.0,394.4 L261.0,383.3 L260.0,383.3 L260.0,390.4 L259.0,390.4 L259.0,394.4 L258.0,394.4 L258.0,393.9 L257.0,393.9 L257.0,383.0 L256.0,383.0 L256.0,389.2 L255.0,389.2 L255.0,412.2 L254.0,412.2 L254.0,414.8 L253.0,414.8 L253.0,411.2 L252.0,411.2 L252.0,395.2 L251.0,395.2 L251.0,401.4 L250.0,401.4 L250.0,398.3 L249.0,398.3 L249.0,407.7 L248.0,407.7 L248.0,403.3 L247.0,403.3 L247.0,404.8 L246.0,404.8 L246.0,401.5 L245.0,401.5 L245.0,403.7 L244.0,403.7 L244.0,391.3 L243.0,391.3 L243.0,384.6 L242.0,384.6 L242.0,384.2 L241.0,384.2 L241.0,390.6 L240.0,390.6 L240.0,384.5 L239.0,384.5 L239.0,385.0 L238.0,385.0 L238.0,386.7 L237.0,386.7 L237.0,398.7 L236.0,398.7 L236.0,381.2 L235.0,381.2 L235.0,383.0 L234.0,383.0 L234.0,380.7 L233.0,380.7 L233.0,399.9 L232.0,399.9 L232.0,390.9 L231.0,390.9 L231.0,379.3 L230.0,379.3 L230.0,397.9 L229.0,397.9 L229.0,388.8 L228.0,388.8 L228.0,391.3 L227.0,391.3 L227.0,394.6 L226.0,394.6 L226.0,379.9 L225.0,379.9 L225.0,394.9 L224.0,394.9 L224.0,394.2 L223.0,394.2 L223.0,389.3 L222.0,389.3 L222.0,397.5 L221.0,397.5 L221.0,390.2 L220.0,390.2 L220.0,382.2 L219.0,382.2 L219.0,391.7 L218.0,391.7 L218.0,380.9 L217.0,380.9 L217.0,395.0 L216.0,395.0 L216.0,398.2 L215.0,398.2 L215.0,401.6 L214.0,401.6 L214.0,408.9 L213.0,408.9 L213.0,394.8 L212.0,394.8 L212.0,411.5 L211.0,411.5 L211.0,403.3 L210.0,403.3 L210.0,398.3 L209.0,398.3 L209.0,402.4 L208.0,402.4 L208.0,406.9 L207.0,406.9 L207.0,391.7 L206.0,391.7 L206.0,405.3 L205.0,405.3 L205.0,390.1 L204.0,390.1 L204.0,411.0 L203.0,411.0 L203.0,410.9 L202.0,410.9 L202.0,412.2 L201.0,412.2 L201.0,407.7 L200.0,407.7 L200.0,397.0 L199.0,397.0 L199.0,412.2 L198.0,412.2 L198.0,407.8 L197.0,407.8 L197.0,393.0 L196.0,393.0 L196.0,400.8 L195.0,400.8 L195.0,387.3 L194.0,387.3 L194.0,385.3 L193.0,385.3 L193.0,386.7 L192.0,386.7 L192.0,379.4 L191.0,379.4 L191.0,379.4 L190.0,379.4 L190.0,383.7 L189.0,383.7 L189.0,387.6 L188.0,387.6 L188.0,387.7 L187.0,387.7 L187.0,402.0 L186.0,402.0 L186.0,388.3 L185.0,388.3 L185.0,388.2 L184.0,388.2 L184.0,395.1 L183.0,395.1 L183.0,398.8 L182.0,398.8 L182.0,399.8 L181.0,399.8 L181.0,389.5 L180.0,389.5 L180.0,391.7 L179.0,391.7 L179.0,379.5 L178.0,379.5 L178.0,401.0 L177.0,401.0 L177.0,395.8 L176.0,395.8 L176.0,402.1 L175.0,402.1 L175.0,398.5 L174.0,398.5 L174.0,401.8 L173.0,401.8 L173.0,410.1 L172.0,410.1 L172.0,389.9 L171.0,389.9 L171.0,399.6 L170.0,399.6 L170.0,388.2 L169.0,388.2 L169.0,404.8 L168.0,404.8 L168.0,394.3 L167.0,394.3 L167.0,397.9 L166.0,397.9 L166.0,405.0 L165.0,405.0 L165.0,410.2 L164.0,410.2 L164.0,405.1 L163.0,405.1 L163.0,403.2 L162.0,403.2 L162.0,402.1 L161.0,402.1 L161.0,387.5 L160.0,387.5 L160.0,390.3 L159.0,390.3 L159.0,384.1 L158.0,384.1 L158.0,393.3 L157.0,393.3 L157.0,405.0 L156.0,405.0 L156.0,398.4 L155.0,398.4 L155.0,401.5 L154.0,401.5 L154.0,393.6 L153.0,393.6 L153.0,386.6 L152.0,386.6 L152.0,404.9 L151.0,404.9 L151.0,393.7 L150.0,393.7 L150.0,386.7 L149.0,386.7 L149.0,398.0 L148.0,398.0 L148.0,397.0 L147.0,397.0 L147.0,384.2 L146.0,384.2 L146.0,387.8 L145.0,387.8 L145.0,394.1 L144.0,394.1 L144.0,388.4 L143.0,388.4 L143.0,379.9 L142.0,379.9 L142.0,396.7 L141.0,396.7 L141.0,393.7 L140.0,393.7 L140.0,392.5 L139.0,392.5 L139.0,401.1 L138.0,401.1 L138.0,396.8 L137.0,396.8 L137.0,399.5 L136.0,399.5 L136.0,399.6 L135.0,399.6 L135.0,398.9 L134.0,398.9 L134.0,405.7 L133.0,405.7 L133.0,394.3 L132.0,394.3 L132.0,411.0 L131.0,411.0 L131.0,400.4 L130.0,400.4 L130.0,393.8 L129.0,393.8 L129.0,395.6 L128.0,395.6 L128.0,397.6 L127.0,397.6 L127.0,404.8 L126.0,404.8 L126.0,407.8 L125.0,407.8 L125.0,408.9 L124.0,408.9 L124.0,399.8 L123.0,399.8 L123.0,388.2 L122.0,388.2 L122.0,403.0 L121.0,403.0 L121.0,390.1 L120.0,390.1 L120.0,401.6 L119.0,401.6 L119.0,400.9 L118.0,400.9 L118.0,391.8 L117.0,391.8 L117.0,398.2 L116.0,398.2 L116.0,398.2 L115.0,398.2 L115.0,396.7 L114.0,396.7 L114.0,398.1 L113.0,398.1 L113.0,390.0 L112.0,390.0 L112.0,399.6 L111.0,399.6 L111.0,383.8 L110.0,383.8 L110.0,381.4 L109.0,381.4 L109.0,401.2 L108.0,401.2 L108.0,395.2 L107.0,395.2 L107.0,382.2 L106.0,382.2 L106.0,392.1 L105.0,392.1 L105.0,395.4 L104.0,395.4 L104.0,384.1 L103.0,384.1 L103.0,393.5 L102.0,393.5 L102.0,397.3 L101.0,397.3 L101.0,389.9 L100.0,389.9 L100.0,398.6 L99.0,398.6 L99.0,393.1 L98.0,393.1 L98.0,382.7 L97.0,382.7 L97.0,384.0 L96.0,384.0 L96.0,395.8 L95.0,395.8 L95.0,395.7 L94.0,395.7 L94.0,400.9 L93.0,400.9 L93.0,403.4 L92.0,403.4 L92.0,383.1 L91.0,383.1 L91.0,385.7 L90.0,385.7 L90.0,378.7 L89.0,378.7 L89.0,381.7 L88.2,381.7 Z" fill="#b1559f"/>
<text x="435" y="317.5" style="font-size:14px;fill:#b8b8b8;stroke:none;opacity:0.6" textLength="31.5" lengthAdjust="spacingAndGlyphs">[100.0ms/div]</text>

<g fill="none" stroke="#1e1e1e" stroke-width="2.1">
<path d="M75.8,303.3 H86.3 M75.8,403.2 H86.3 M75.8,502.3 H86.3"/>
<path d="M88.6,505.7 V517.2 M278.2,505.7 V517.2 M467.8,505.7 V517.2 " stroke-width="1.9"/>
<path d="M126.5,505.7 V512.4 M164.4,505.7 V512.4 M202.4,505.7 V512.4 M240.3,505.7 V512.4 M316.1,505.7 V512.4 M354.0,505.7 V512.4 M392.0,505.7 V512.4 M429.9,505.7 V512.4 " stroke-width="1.9"/>
<path d="M472.8,328.2 H502.3 M472.8,382.8 H502.3 M472.8,398.7 H502.3" stroke-width="2.2"/>
</g>
<g fill="none" stroke="#3a3a3a" stroke-width="0.9">
<path d="M492.4,329 V413.5"/>
<path d="M488.8,335.6 L492.4,329.6 L496,335.6 M488.8,375.4 L492.4,381.4 L496,375.4"/>
<path d="M488.8,406.2 L492.4,400.2 L496,406.2" />
</g>
<text class="ax" y="309.9" ><tspan x="52.60" textLength="8.71" lengthAdjust="spacingAndGlyphs">0</tspan></text>
<text class="ax" y="410.2" ><tspan x="32.90" textLength="38.19" lengthAdjust="spacingAndGlyphs">−100</tspan></text>
<text class="ax" y="508.7" ><tspan x="33.30" textLength="38.09" lengthAdjust="spacingAndGlyphs">−200</tspan></text>
<text class="ax" y="538.1" ><tspan x="84.10" textLength="9.01" lengthAdjust="spacingAndGlyphs">0</tspan></text>
<text class="ax" y="536.5" ><tspan x="266.20" textLength="27.73" lengthAdjust="spacingAndGlyphs">500</tspan></text>
<text class="ax" y="535.6" ><tspan x="446.30" textLength="36.84" lengthAdjust="spacingAndGlyphs">1000</tspan></text>
<text class="ax" y="566.0" style="font-size:18.7px"><tspan x="245.00" textLength="74.41" lengthAdjust="spacingAndGlyphs">Time[ms]</tspan></text>
<text class="ax" transform="translate(18.2,509.8) rotate(-90)" textLength="217.6" lengthAdjust="spacingAndGlyphs" style="font-size:19.6px">Photo detector signal [mV]</text>
<text class="ax" transform="translate(504.8,358.4) rotate(90)" text-anchor="middle" textLength="10.2" lengthAdjust="spacingAndGlyphs" style="font-size:16.8px">N</text>
<text class="ax" transform="translate(504.8,392.8) rotate(90)" text-anchor="middle" textLength="10.8" lengthAdjust="spacingAndGlyphs" style="font-size:16.8px">S</text>
</svg>
</body></html>
